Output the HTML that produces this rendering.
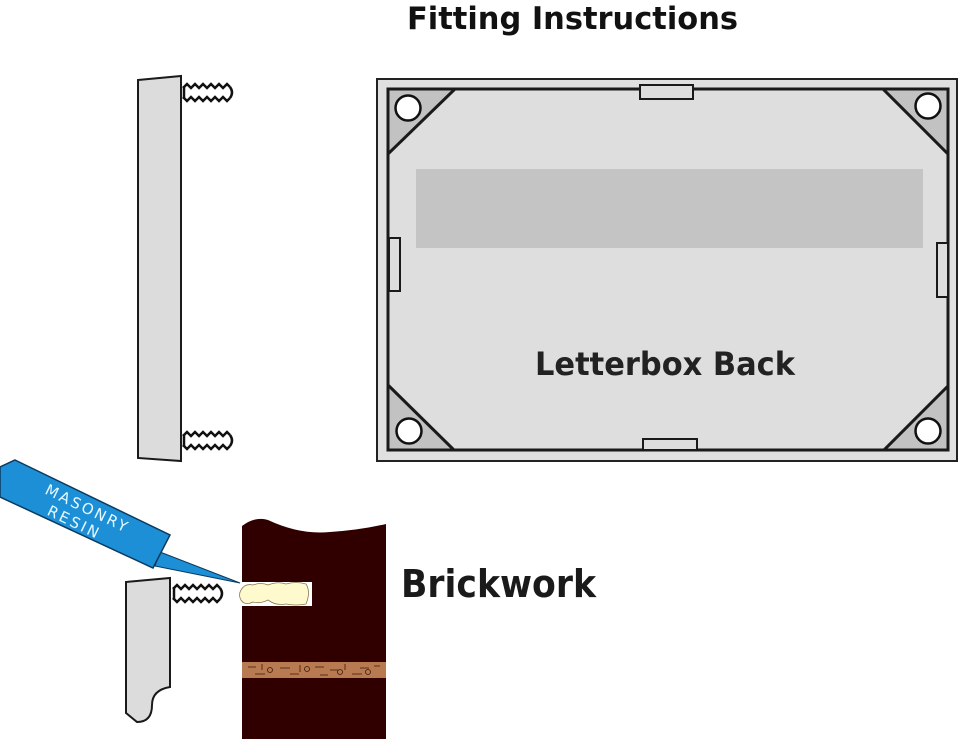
<!DOCTYPE html>
<html><head><meta charset="utf-8"><style>html,body{margin:0;padding:0;background:#fff}svg{display:block}</style></head>
<body>
<svg width="961" height="739" viewBox="0 0 961 739" xmlns="http://www.w3.org/2000/svg" font-family="'DejaVu Sans','Liberation Sans',sans-serif" font-weight="bold">
<defs>
<g id="screw" fill="none" stroke="#111" stroke-width="2.5" stroke-linejoin="miter">
<polyline points="0,2 4,-2 8,2 12,-2 16,2 20,-2 24,2 28,-2 32,2 36,-2 40,2 44,-2 47,1"/>
<polyline points="0,11 4,15 8,11 12,15 16,11 20,15 24,11 28,15 32,11 36,15 40,11 44,15 47,12"/>
<path d="M47,1 Q51,6.5 47,12"/>
<line x1="1" y1="0" x2="1" y2="13"/>
</g>
</defs>
<text x="407" y="29" font-size="31" fill="#111" textLength="331" lengthAdjust="spacingAndGlyphs">Fitting Instructions</text>

<rect x="377" y="79" width="580" height="382" fill="#e0e0e0" stroke="#222" stroke-width="2"/>
<rect x="388" y="89" width="560" height="361" fill="#dedede" stroke="#1a1a1a" stroke-width="3"/>
<rect x="416" y="169" width="507" height="79" fill="#c4c4c4"/>
<g fill="#c2c2c2" stroke="#1a1a1a" stroke-width="3">
<polygon points="388,89 455,89 388,154"/>
<polygon points="883,89 948,89 948,154"/>
<polygon points="388,385 388,450 454,450"/>
<polygon points="948,386 948,450 884,450"/>
</g>
<g fill="#fff" stroke="#111" stroke-width="2.5">
<circle cx="408" cy="108" r="12.5"/>
<circle cx="928" cy="106" r="12.5"/>
<circle cx="409" cy="431" r="12.5"/>
<circle cx="928" cy="431" r="12.5"/>
</g>
<g fill="#dedede" stroke="#1a1a1a" stroke-width="2">
<rect x="640" y="85" width="53" height="14"/>
<rect x="643" y="439" width="54" height="11"/>
<rect x="389" y="238" width="11" height="53"/>
<rect x="937" y="243" width="11" height="54"/>
</g>
<text x="535" y="375" font-size="32" fill="#222" textLength="260" lengthAdjust="spacingAndGlyphs">Letterbox Back</text>

<polygon points="138,80 181,76 181,461 138,458" fill="#dcdcdc" stroke="#1a1a1a" stroke-width="2"/>
<use href="#screw" x="183" y="86"/>
<use href="#screw" x="183" y="434"/>

<polygon points="160,552 240,583 155,566" fill="#1d8fd6" stroke="#0a3a60" stroke-width="1"/>
<polygon points="15,460 170,535 153,568 0,497 0,467" fill="#1d8fd6" stroke="#0a3a60" stroke-width="1.5"/>
<g transform="translate(84,516) rotate(25.8)" fill="#e6f8ff" font-size="15" letter-spacing="2.5" text-anchor="middle" font-weight="normal">
<text x="0" y="-3">MASONRY</text>
<text x="-6" y="15">RESIN</text>
</g>

<path d="M126,582 L170,578 L170,687 Q152,690 152,705 Q152,722 137,722 L126,713 Z" fill="#dcdcdc" stroke="#1a1a1a" stroke-width="2"/>
<use href="#screw" x="173" y="587"/>

<path d="M242,526 Q255,516 268,520 Q300,535 330,532 Q360,530 386,524 L386,739 L242,739 Z" fill="#300000"/>
<rect x="242" y="582" width="70" height="24" fill="#fff"/>
<path d="M241,590 q4,-7 12,-5 q8,-3 15,0 q10,-4 18,-1 q10,-3 20,0 q5,8 0,20 q-10,2 -20,0 q-10,2 -18,-4 q-8,4 -15,2 q-8,4 -12,-2 q-3,-5 0,-10z" fill="#fffacd" stroke="#8a7a50" stroke-width="0.8"/>
<rect x="242" y="662" width="144" height="16" fill="#b87a50"/>
<g stroke="#3a1a08" stroke-width="0.8" fill="none">
<path d="M248,667 h8 M262,664 v6 M280,668 h10 M300,665 v7 M315,667 h9 M330,670 h8 M345,664 v6 M360,668 h9 M374,666 h6 M255,674 h10 M290,674 h9 M320,675 h8 M352,674 h10"/>
<circle cx="270" cy="670" r="2.5"/><circle cx="307" cy="669" r="2.5"/><circle cx="340" cy="672" r="2.5"/><circle cx="368" cy="672" r="2.5"/>
</g>
<text x="401" y="597" font-size="38" fill="#1a1a1a" textLength="195" lengthAdjust="spacingAndGlyphs">Brickwork</text>
</svg>
</body></html>
